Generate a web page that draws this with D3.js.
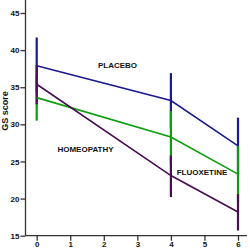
<!DOCTYPE html>
<html>
<head>
<meta charset="utf-8">
<script src="https://cdn.jsdelivr.net/npm/d3@7"></script>
<style>
  body { margin: 0; background: #fff; }
  .axis text { font-family: "Liberation Sans", Arial, sans-serif; font-size: 8px; font-weight: bold; fill: #111; }
  .axis path, .axis line { stroke: #333; stroke-width: 1.3; }
  .lbl { font-family: "Liberation Sans", Arial, sans-serif; font-size: 8px; font-weight: bold; fill: #111; }
</style>
</head>
<body>
<div class="chart"></div>
<script>
// weeks of treatment
const weeks = [0, 4, 6];
const xTicks = [0, 1, 2, 3, 4, 5, 6];
const yTicks = [15, 20, 25, 30, 35, 40, 45];

// GS score, mean and interval per group
const placeboMean = [37.9, 33.2, 27.1];
const placeboHi   = [41.7, 36.9, 30.9];
const placeboLo   = [34.3, 29.5, 23.3];

const fluoxMean = [33.6, 28.3, 23.3];
const fluoxHi   = [36.7, 31.8, 27.1];
const fluoxLo   = [30.5, 24.7, 19.5];

const homeoMean = [35.4, 23.1, 18.2];
const homeoHi   = [38.0, 25.8, 20.6];
const homeoLo   = [32.7, 20.2, 15.7];

const width = 250, height = 250;

const svg = d3.select(".chart").append("svg")
    .attr("width", width)
    .attr("height", height);

const xScale = d3.scaleLinear().domain([0, 6]).range([36.7, 238]);
const yScale = d3.scaleLinear().domain([15, 45]).range([235.7, 13]);

// axes
let yAxis = d3.axisLeft(yScale).tickValues(yTicks).tickFormat(d3.format("d"))
    .tickSize(5).tickSizeOuter(0).tickPadding(1);
let xAxis = d3.axisBottom(xScale).tickValues(xTicks).tickFormat(d3.format("d"))
    .tickSize(5).tickSizeOuter(0).tickPadding(1);

const gy = svg.append("g")
    .attr("class", "axis y-axis")
    .attr("transform", "translate(25.5,0)")
    .call(yAxis);
gy.select(".domain").attr("d", `M0,0V${yScale(15)}`);

const gx = svg.append("g")
    .attr("class", "axis x-axis")
    .attr("transform", `translate(0,${yScale(15)})`)
    .call(xAxis);
gx.select(".domain").attr("d", "M25.5,0H247");

svg.append("text")
    .attr("class", "lbl")
    .attr("transform", "translate(8,111) rotate(-90)")
    .attr("text-anchor", "middle")
    .style("font-size", "9px")
    .text("GS score");

const groups = [
  {name: "PLACEBO", mean: placeboMean, hi: placeboHi, lo: placeboLo, color: "#1a1a8f"},
  {name: "FLUOXETINE", mean: fluoxMean, hi: fluoxHi, lo: fluoxLo, color: "#0a9e0a"},
  {name: "HOMEOPATHY", mean: homeoMean, hi: homeoHi, lo: homeoLo, color: "#4a0c52"}
];

const line = d3.line()
    .x(d => xScale(d.w))
    .y(d => yScale(d.m));

// error bars first, then lines on top
groups.forEach(g => {
  const rows = weeks.map((w, i) => ({w: w, m: g.mean[i], hi: g.hi[i], lo: g.lo[i]}));
  svg.append("g").selectAll("line")
    .data(rows)
    .enter()
    .append("line")
    .attr("x1", d => xScale(d.w))
    .attr("x2", d => xScale(d.w))
    .attr("y1", d => yScale(d.hi))
    .attr("y2", d => yScale(d.lo))
    .attr("stroke", g.color)
    .attr("stroke-width", 2.2);
});

groups.forEach(g => {
  const rows = weeks.map((w, i) => ({w: w, m: g.mean[i]}));
  svg.append("path")
    .datum(rows)
    .attr("fill", "none")
    .attr("stroke", g.color)
    .attr("stroke-width", 1.6)
    .attr("d", line);
});

// group labels
svg.append("text").attr("class", "lbl").attr("x", 117.5).attr("y", 67.5).attr("text-anchor", "middle").text("PLACEBO");
svg.append("text").attr("class", "lbl").attr("x", 85.5).attr("y", 151.5).attr("text-anchor", "middle").text("HOMEOPATHY");
svg.append("text").attr("class", "lbl").attr("x", 202).attr("y", 174.5).attr("text-anchor", "middle").text("FLUOXETINE");
</script>
</body>
</html>
